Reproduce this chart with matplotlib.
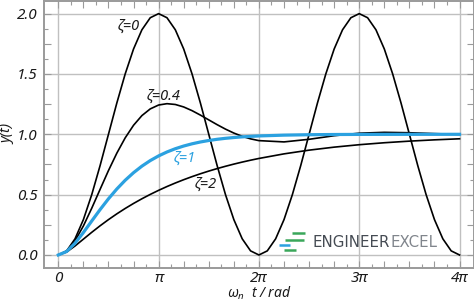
import matplotlib
matplotlib.use("Agg")
import matplotlib.pyplot as plt
from matplotlib.ticker import FixedLocator, FixedFormatter
from matplotlib.lines import Line2D
import numpy as np

plt.rcParams['font.family'] = ['Noto Sans', 'DejaVu Sans']
plt.rcParams['font.style'] = 'italic'
plt.rcParams['mathtext.fontset'] = 'custom'
plt.rcParams['mathtext.it'] = 'Noto Sans:italic'
plt.rcParams['mathtext.rm'] = 'Noto Sans'

# ---- data ----
t_undamped = [0, 0.2618, 0.5236, 0.7854, 1.0472, 1.3090, 1.5708, 1.8326, 2.0944,
              2.3562, 2.6180, 2.8798, 3.1416, 3.4034, 3.6652, 3.9270, 4.1888,
              4.4506, 4.7124, 4.9742, 5.2360, 5.4978, 5.7596, 6.0214, 6.2832,
              6.5450, 6.8068, 7.0686, 7.3304, 7.5922, 7.8540, 8.1158, 8.3776,
              8.6394, 8.9012, 9.1630, 9.4248, 9.6866, 9.9484, 10.2102, 10.4720,
              10.7338, 10.9956, 11.2574, 11.5192, 11.7810, 12.0428, 12.3046, 12.5664]
y_zeta0 = [0, 0.034, 0.134, 0.293, 0.5, 0.741, 1.0, 1.259, 1.5, 1.707, 1.866, 1.966,
           2.0, 1.966, 1.866, 1.707, 1.5, 1.259, 1.0, 0.741, 0.5, 0.293, 0.134, 0.034,
           0, 0.034, 0.134, 0.293, 0.5, 0.741, 1.0, 1.259, 1.5, 1.707, 1.866, 1.966,
           2.0, 1.966, 1.866, 1.707, 1.5, 1.259, 1.0, 0.741, 0.5, 0.293, 0.134, 0.034, 0]

t_damped = [0, 0.2618, 0.5236, 0.7854, 1.0472, 1.3090, 1.5708, 1.8326, 2.0944,
            2.3562, 2.6180, 2.8798, 3.1416, 3.4034, 3.6652, 3.9270, 4.1888,
            4.4506, 4.7124, 4.9742, 5.2360, 5.4978, 5.7596, 6.0214, 6.2832,
            7.0686, 7.8540, 8.6394, 9.4248, 10.2102, 10.9956, 11.7810, 12.5664]
y_zeta04 = [0, 0.0318, 0.1172, 0.2406, 0.3875, 0.5442, 0.6994, 0.8437, 0.9704,
            1.0749, 1.1551, 1.2106, 1.2427, 1.2538, 1.2471, 1.2266, 1.1960, 1.1591,
            1.1194, 1.0799, 1.0429, 1.0103, 0.9832, 0.9623, 0.9476,
            0.9370, 0.9587, 0.9883, 1.0092, 1.0163, 1.0130, 1.0056, 0.9992]
y_zeta1 = [0, 0.0288, 0.0974, 0.1860, 0.2816, 0.3763, 0.4655, 0.5467, 0.6190,
           0.6819, 0.7361, 0.7822, 0.8211, 0.8536, 0.8806, 0.9029, 0.9213, 0.9364,
           0.9487, 0.9587, 0.9668, 0.9734, 0.9787, 0.9830, 0.9864,
           0.9931, 0.9966, 0.9983, 0.9992, 0.9996, 0.9998, 0.9999, 1.0000]
y_zeta2 = [0, 0.0248, 0.0746, 0.1312, 0.1878, 0.2420, 0.2930, 0.3408, 0.3854,
           0.4270, 0.4658, 0.5020, 0.5357, 0.5672, 0.5965, 0.6238, 0.6493, 0.6731,
           0.6952, 0.7159, 0.7351, 0.7531, 0.7698, 0.7854, 0.7999,
           0.8379, 0.8687, 0.8936, 0.9138, 0.9301, 0.9434, 0.9541, 0.9628]

curve_labels = ['ζ=0', 'ζ=0.4', 'ζ=1', 'ζ=2']
x_tick_values = [0, np.pi, 2 * np.pi, 3 * np.pi, 4 * np.pi]
x_tick_labels = ['0', 'π', '2π', '3π', '4π']
y_tick_values = [0.0, 0.5, 1.0, 1.5, 2.0]
y_tick_labels = ['0.0', '0.5', '1.0', '1.5', '2.0']

BLUE = '#2ba1e0'
GRID = '#c0c0c0'
SPINE = '#9a9a9a'
TXT = '#1a1a1a'

fig = plt.figure(figsize=(4.74, 3.01), dpi=100)
ax = fig.add_axes([0.0935, 0.1096, 0.9055, 0.8884])
ax.set_xlim(-0.438, 13.004)
ax.set_ylim(-0.108, 2.108)

# grid lines at labelled ticks
for xv in x_tick_values:
    ax.axvline(xv, color=GRID, lw=1.0, zorder=0)
for yv in y_tick_values:
    ax.axhline(yv, color=GRID, lw=1.0, zorder=0)

# curves
ax.plot(t_undamped, y_zeta0, color='black', lw=1.2, zorder=3)
ax.plot(t_damped, y_zeta04, color='black', lw=1.2, zorder=3)
ax.plot(t_damped, y_zeta2, color='black', lw=1.2, zorder=3)
ax.plot(t_damped, y_zeta1, color=BLUE, lw=2.3, zorder=4)

# curve labels
LFS = 10.5
ax.text(2.214, 1.896, curve_labels[0], fontsize=LFS, color=TXT, ha='center', va='center')
ax.text(3.288, 1.311, curve_labels[1], fontsize=LFS, color=TXT, ha='center', va='center')
ax.text(3.968, 0.803, curve_labels[2], fontsize=LFS, color=BLUE, ha='center', va='center')
ax.text(4.620, 0.588, curve_labels[3], fontsize=LFS, color=TXT, ha='center', va='center')

# ticks
xmaj = [k * np.pi / 4 for k in range(17)]
xlab = [x_tick_labels[k // 4] if k % 4 == 0 else '' for k in range(17)]
ax.xaxis.set_major_locator(FixedLocator(xmaj))
ax.xaxis.set_major_formatter(FixedFormatter(xlab))
ax.xaxis.set_minor_locator(FixedLocator([k * np.pi / 8 for k in range(33)]))
ymaj = [k * 0.25 for k in range(9)]
ylab = [y_tick_labels[k // 2] if k % 2 == 0 else '' for k in range(9)]
ax.yaxis.set_major_locator(FixedLocator(ymaj))
ax.yaxis.set_major_formatter(FixedFormatter(ylab))
ax.yaxis.set_minor_locator(FixedLocator([k * 0.125 for k in range(17)]))

ax.tick_params(which='both', direction='in', top=True, right=True,
               color=SPINE, width=0.8, labelsize=11, labelcolor=TXT)
ax.tick_params(which='major', length=5)
ax.tick_params(which='minor', length=3)
ax.tick_params(axis='x', which='major', pad=2)
ax.tick_params(axis='y', which='major', pad=5)

for s in ax.spines.values():
    s.set_color(SPINE)
    s.set_linewidth(1.4)

ax.set_xlabel(r'$\omega_{\mathrm{n}}$  t / rad', fontsize=10, color=TXT, labelpad=-1)
ax.set_ylabel('y(t)', fontsize=10.5, color=TXT, labelpad=1)

# logo
H = 301.0
W = 474.0
GREEN = '#3aa75a'
def seg(x0, x1, y, c):
    fig.add_artist(Line2D([x0 / W, x1 / W], [1 - y / H, 1 - y / H], color=c,
                          lw=1.8, solid_capstyle='butt', transform=fig.transFigure))
seg(292, 305, 233, GREEN)
seg(285, 304, 239.5, GREEN)
seg(279, 290, 244.5, BLUE)
seg(284, 296, 250, GREEN)

t1 = fig.text(313 / W, 1 - 247 / H, 'ENGINEER', fontsize=10.8, color='#454b53',
              family='DejaVu Sans', style='normal', ha='left', va='baseline')
fig.canvas.draw()
bb = t1.get_window_extent()
fig.text(bb.x1 / W, 1 - 247 / H, 'EXCEL', fontsize=10.8, color='#80858c',
         family='DejaVu Sans', style='normal', ha='left', va='baseline')

fig.savefig('out.png', dpi=100)
